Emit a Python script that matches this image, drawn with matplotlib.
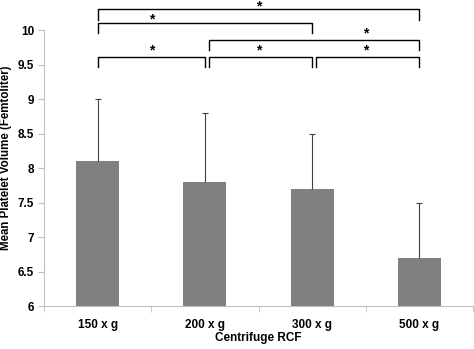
import matplotlib.pyplot as plt

plt.rcParams['font.family'] = ['Liberation Sans', 'DejaVu Sans']

categories = ['150 x g', '200 x g', '300 x g', '500 x g']
mpv = [8.1, 7.8, 7.7, 6.7]
sd = [0.9, 1.0, 0.8, 0.8]

# significance brackets: (left bar, right bar, level, star x, star y)
brackets = [
    (0, 1, 9.61, 0.5, 9.75),
    (1, 2, 9.61, 1.5, 9.75),
    (2, 3, 9.61, 2.5, 9.75),
    (1, 3, 9.86, 2.5, 10.0),
    (0, 2, 10.10, 0.5, 10.20),
    (0, 3, 10.30, 1.5, 10.39),
]

fig = plt.figure(figsize=(4.74, 3.49), dpi=100)
ax = fig.add_axes([0.093, 0.123, 0.905, 0.791])

x = list(range(len(categories)))
ax.bar(x, mpv, width=0.4, color='#808080', zorder=2)
eb = ax.errorbar(x, mpv, yerr=[[0] * len(sd), sd], fmt='none', ecolor='#404040',
                 elinewidth=0.8, capsize=2.5, capthick=0.8, zorder=3)
eb[1][0].set_visible(False)  # no lower caps

ax.set_xlim(-0.5, 3.5)
ax.set_ylim(6, 10)
ax.set_yticks([6, 6.5, 7, 7.5, 8, 8.5, 9, 9.5, 10])
ax.set_yticklabels(['6', '6.5', '7', '7.5', '8', '8.5', '9', '9.5', '10'],
                   fontsize=8.5, fontweight='bold')
ax.set_xticks(x)
ax.set_xticklabels(categories, fontsize=8.5, fontweight='bold')
ax.set_xticks([-0.5, 0.5, 1.5, 2.5, 3.5], minor=True)
ax.tick_params(axis='x', which='major', length=0, pad=9)
ax.tick_params(axis='x', which='minor', length=4, color='#bfbfbf')
ax.tick_params(axis='y', length=4, color='#bfbfbf', pad=3)

for s in ['top', 'right']:
    ax.spines[s].set_visible(False)
for s in ['left', 'bottom']:
    ax.spines[s].set_color('#bfbfbf')

ax.set_xlabel('Centrifuge RCF', fontsize=8.5, fontweight='bold', labelpad=1)
ax.set_ylabel('Mean Platelet Volume (Femtoliter)', fontsize=8.3,
              fontweight='bold')
ax.yaxis.set_label_coords(-0.075, 0.538)

# brackets with stars
drop = 0.15
for i, j, lvl, sx, sy in brackets:
    x0 = i + 0.04 if i > 0 else i
    x1 = j
    ax.plot([x0, x0, x1, x1], [lvl - drop, lvl, lvl, lvl - drop],
            color='black', lw=1.0, clip_on=False)
    ax.text(sx, sy - 0.045, '*', ha='center', va='center', fontsize=10,
            fontweight='bold', clip_on=False)

fig.savefig('out.png', dpi=100)
